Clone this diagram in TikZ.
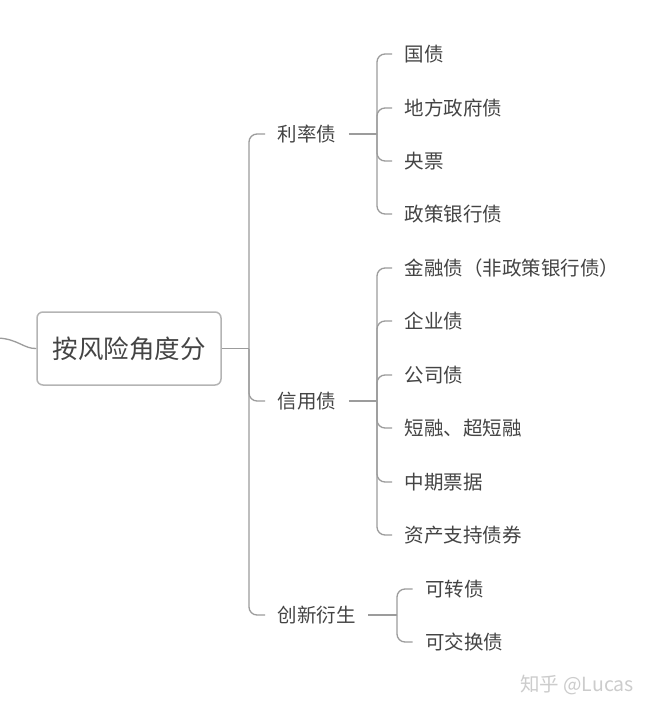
\documentclass[tikz,border=0pt]{standalone}
\usepackage{fontspec}
\setmainfont{Noto Sans CJK SC}
\definecolor{txt}{HTML}{444444}
\definecolor{ln}{HTML}{9C9C9C}
\definecolor{bx}{HTML}{B4B4B4}
\definecolor{wm}{HTML}{CCCCCC}
\begin{document}
\begin{tikzpicture}[x=1pt,y=-1pt,
  rootbox/.style={draw=bx,line width=1.5pt,rounded corners=6pt,fill=white,text=txt,
    minimum width=184pt,minimum height=73pt,inner sep=0pt,font=\fontsize{25.5}{30}\selectfont},
  lvl/.style={text=txt,inner xsep=12.5pt,inner ysep=2pt,font=\fontsize{19.5}{24}\selectfont},
  conn/.style={draw=ln,line width=1.3pt,rounded corners=8pt},
  wmark/.style={text=wm,inner sep=0pt,font=\fontsize{19.5}{24}\selectfont}]
\useasboundingbox (0,0) rectangle (652,712);
\fill[white] (0,0) rectangle (652,712);

% root
\node[rootbox] (root) at (129,348.5) {按风险角度分};
\coordinate (in) at (-2,338);
\draw[conn] (in) .. controls (18,339) and (24,349) .. (root.west);

% level 1
\node[lvl,anchor=west] (a) at (265,134) {利率债};
\node[lvl,anchor=west] (b) at (265,401) {信用债};
\node[lvl,anchor=west] (c) at (265,615) {创新衍生};

\coordinate (j0) at (249,348.5);
\draw[conn] (root.east) -- (j0);
\foreach \n in {a,b,c} \draw[conn] (j0) |- (\n.west);

% level 2 under a
\node[lvl,anchor=west] (a1) at (392,54) {国债};
\node[lvl,anchor=west] (a2) at (392,108) {地方政府债};
\node[lvl,anchor=west] (a3) at (392,161) {央票};
\node[lvl,anchor=west] (a4) at (392,214) {政策银行债};
\coordinate (ja) at (377,134);
\draw[conn] (a.east) -- (ja);
\foreach \n in {a1,a2,a3,a4} \draw[conn] (ja) |- (\n.west);

% level 2 under b
\node[lvl,anchor=west] (b1) at (392,268) {金融债（非政策银行债）};
\node[lvl,anchor=west] (b2) at (392,321) {企业债};
\node[lvl,anchor=west] (b3) at (392,375) {公司债};
\node[lvl,anchor=west] (b4) at (392,428) {短融、超短融};
\node[lvl,anchor=west] (b5) at (392,482) {中期票据};
\node[lvl,anchor=west] (b6) at (392,535) {资产支持债券};
\coordinate (jb) at (377,401);
\draw[conn] (b.east) -- (jb);
\foreach \n in {b1,b2,b3,b4,b5,b6} \draw[conn] (jb) |- (\n.west);

% level 2 under c
\node[lvl,anchor=west] (c1) at (412.5,589) {可转债};
\node[lvl,anchor=west] (c2) at (412.5,642) {可交换债};
\coordinate (jc) at (397,615);
\draw[conn] (c.east) -- (jc);
\foreach \n in {c1,c2} \draw[conn] (jc) |- (\n.west);

% watermark
\node[wmark] (wm) at (577,685) {知乎 @Lucas};
\end{tikzpicture}
\end{document}
